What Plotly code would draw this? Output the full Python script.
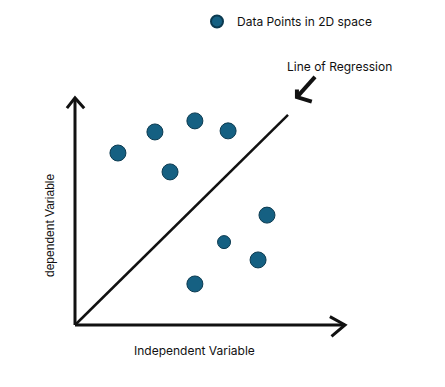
import plotly.graph_objects as go

# Data points (arbitrary units; origin at the axes' corner)
pts_x = [1.59, 2.96, 4.44, 5.67, 3.52, 7.11, 5.52, 6.78, 4.44]
pts_y = [6.37, 7.15, 7.56, 7.19, 5.67, 4.07, 3.07, 2.41, 1.52]
pts_size = [16, 16, 16, 16, 16, 16, 13, 16, 16]

# Regression line endpoints
reg_x = [0, 7.89]
reg_y = [0, 7.78]

# Axis extents
x_axis_len = 10.0
y_axis_len = 8.41

# Pointer arrow (towards the end of the regression line)
ptr_x = [8.89, 8.22]
ptr_y = [9.19, 8.44]

BLUE = "#156082"
INK = "#111111"

fig = go.Figure()

# Axes drawn as arrows
fig.add_trace(go.Scatter(x=[0, 0], y=[0, y_axis_len], mode="lines",
                         line=dict(color=INK, width=3), showlegend=False, hoverinfo="skip"))
fig.add_trace(go.Scatter(x=[-0.30, 0, 0.34], y=[8.03, y_axis_len, 8.03], mode="lines",
                         line=dict(color=INK, width=3), showlegend=False, hoverinfo="skip"))
fig.add_trace(go.Scatter(x=[0, x_axis_len], y=[0, 0], mode="lines",
                         line=dict(color=INK, width=3), showlegend=False, hoverinfo="skip"))
fig.add_trace(go.Scatter(x=[9.44, x_axis_len, 9.50], y=[0.31, 0, -0.42], mode="lines",
                         line=dict(color=INK, width=3), showlegend=False, hoverinfo="skip"))

# Regression line
fig.add_trace(go.Scatter(x=reg_x, y=reg_y, mode="lines",
                         line=dict(color=INK, width=2.5), showlegend=False, hoverinfo="skip"))

# Pointer arrow
fig.add_trace(go.Scatter(x=ptr_x, y=ptr_y, mode="lines",
                         line=dict(color=INK, width=4), showlegend=False, hoverinfo="skip"))
fig.add_trace(go.Scatter(x=[8.22, ptr_x[1], 8.77], y=[8.72, ptr_y[1], 8.27], mode="lines",
                         line=dict(color=INK, width=4), showlegend=False, hoverinfo="skip"))

# Data points
fig.add_trace(go.Scatter(x=pts_x, y=pts_y, mode="markers", name="Data Points in 2D space",
                         marker=dict(color=BLUE, size=pts_size, opacity=1,
                                     line=dict(color="#0b3a50", width=1))))

fig.add_annotation(x=9.81, y=9.59, text="Line of Regression", showarrow=False,
                   font=dict(size=12, color=INK, family="Inter"))
fig.add_annotation(x=4.41, y=-0.93, text="Independent Variable", showarrow=False,
                   font=dict(size=12, color=INK, family="Inter"))
fig.add_annotation(x=-0.93, y=3.70, text="dependent Variable", showarrow=False, textangle=-90,
                   font=dict(size=12, color=INK, family="Liberation Sans"))

s = 27.0
fig.update_layout(
    width=445, height=387, autosize=False,
    margin=dict(l=0, r=0, t=0, b=0),
    paper_bgcolor="white", plot_bgcolor="white",
    xaxis=dict(range=[-75 / s, 370 / s], visible=False, fixedrange=True),
    yaxis=dict(range=[-62 / s, 325 / s], visible=False, fixedrange=True),
    showlegend=True,
    legend=dict(x=197 / 445, y=1 - 7 / 387, xanchor="left", yanchor="top",
                bgcolor="rgba(0,0,0,0)", itemsizing="constant",
                font=dict(size=12, color=INK, family="Inter")),
)

fig.write_html("out.html")
